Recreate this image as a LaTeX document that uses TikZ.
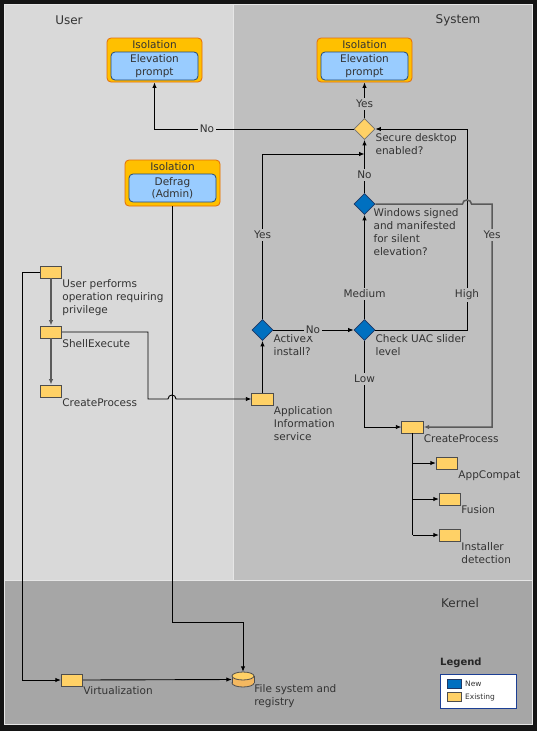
\documentclass[tikz,border=0pt]{standalone}
\usepackage{fontspec}
\setmainfont{DejaVu Sans}
\usetikzlibrary{shapes.geometric,arrows.meta,calc}
\definecolor{bg}{HTML}{141414}
\definecolor{userp}{HTML}{D9D9D9}
\definecolor{sysp}{HTML}{BFBFBF}
\definecolor{kerp}{HTML}{A6A6A6}
\definecolor{panelline}{HTML}{E6E6E6}
\definecolor{txt}{HTML}{333333}
\definecolor{exfill}{HTML}{FFD166}
\definecolor{exline}{HTML}{4D4D4D}
\definecolor{newfill}{HTML}{0070C0}
\definecolor{newline}{HTML}{1F3864}
\definecolor{isofill}{HTML}{FFC000}
\definecolor{isoline}{HTML}{E36C0A}
\definecolor{innfill}{HTML}{99CCFF}
\definecolor{innline}{HTML}{1F497D}
\definecolor{cylbody}{HTML}{F4B860}
\definecolor{legline}{HTML}{1C3F94}
\definecolor{grayarrow}{HTML}{5A5A5A}
\tikzset{
  exbox/.style={draw=exline, fill=exfill, line width=0.9pt, minimum width=21.5pt, minimum height=12pt, inner sep=0pt},
  newdia/.style={diamond, aspect=1, draw=newline, fill=newfill, line width=0.8pt, minimum width=21pt, minimum height=21pt, inner sep=0pt},
  exdia/.style={diamond, aspect=1, draw=exline!80, fill=exfill, line width=0.8pt, minimum width=21pt, minimum height=21pt, inner sep=0pt},
  isoouter/.style={draw=isoline, fill=isofill, rounded corners=4pt, line width=0.8pt, minimum width=95pt, minimum height=44pt, inner sep=0pt},
  isoinner/.style={draw=innline, fill=innfill, rounded corners=4pt, line width=0.8pt, minimum width=87pt, minimum height=28pt, inner sep=0pt, align=center, font=\fontsize{10.5}{12.5}\selectfont, text=txt},
  lbl/.style={font=\fontsize{10.5}{13}\selectfont, text=txt, align=left, inner sep=0pt},
  ttl/.style={font=\fontsize{12}{14}\selectfont, text=txt, inner sep=0pt},
  elbl/.style={font=\fontsize{10.5}{13}\selectfont, text=txt, inner sep=1.8pt, fill=sysp},
  conn/.style={draw=black, line width=0.9pt},
  arr/.style={conn, -{Latex[length=5.5pt,width=4.5pt]}},
  garr/.style={draw=grayarrow, line width=1.5pt, -{Latex[length=5.5pt,width=4.5pt]}},
  legtxt/.style={font=\fontsize{7.5}{9}\selectfont, text=txt, anchor=west, inner sep=0pt},
}
\begin{document}
\begin{tikzpicture}[x=1pt,y=-1pt]
\useasboundingbox (0,0) rectangle (537,731);
\fill[bg] (0,0) rectangle (537,731);
% panels
\filldraw[fill=userp, draw=panelline, line width=0.8pt] (4,4) rectangle (233,580);
\filldraw[fill=sysp, draw=panelline, line width=0.8pt] (233,4) rectangle (532,580);
\filldraw[fill=kerp, draw=panelline, line width=0.8pt] (4,580) rectangle (532,724);
% titles
\node[ttl] (tuser) at (69,20) {User};
\node[ttl] (tsys) at (458,20) {System};
\node[ttl] (tker) at (460,603) {Kernel};
% isolation boxes
\node[isoouter] (iso1) at (154.5,60) {};
\node[lbl] (iso1t) at (154.5,44.5) {Isolation};
\node[isoinner] (ep1) at (154.5,66) {Elevation\\prompt};
\node[isoouter] (iso2) at (364.5,60) {};
\node[lbl] (iso2t) at (364.5,44.5) {Isolation};
\node[isoinner] (ep2) at (364.5,66) {Elevation\\prompt};
\node[isoouter, minimum height=46pt] (iso3) at (172.5,183) {};
\node[lbl] (iso3t) at (172.5,167) {Isolation};
\node[isoinner] (df) at (172.5,188) {Defrag\\(Admin)};
% diamonds
\node[exdia] (sec) at (364.5,129) {};
\node[newdia] (win) at (364.5,204) {};
\node[newdia] (uac) at (364.5,330) {};
\node[newdia] (ax) at (262.5,330) {};
% boxes
\node[exbox] (up) at (51,272) {};
\node[exbox] (se) at (51,332) {};
\node[exbox] (cp1) at (51,391) {};
\node[exbox] (ai) at (262.5,399) {};
\node[exbox] (cp2) at (412.5,427) {};
\node[exbox] (ac) at (447,463) {};
\node[exbox] (fu) at (450,499) {};
\node[exbox] (ins) at (450,535) {};
\node[exbox] (vi) at (72,680) {};
\node[minimum width=22pt, minimum height=15pt, inner sep=0pt] (fs) at (243,679.5) {};
% cylinder drawing
\filldraw[fill=cylbody, draw=exline, line width=0.8pt] (243,683) ellipse [x radius=11, y radius=4];
\fill[cylbody] (232,676) rectangle (254,683);
\draw[exline, line width=0.8pt] (232,676) -- (232,683) (254,676) -- (254,683);
\filldraw[fill=exfill, draw=exline, line width=0.8pt] (243,676) ellipse [x radius=11, y radius=4];
% box labels
\node[lbl, anchor=north west] (upt) at ($(up.south east)+(0,0.5)$) {User performs\\operation requiring\\privilege};
\node[lbl, anchor=north west] (set) at ($(se.south east)+(0,0.5)$) {ShellExecute};
\node[lbl, anchor=north west] (cp1t) at ($(cp1.south east)+(0,0.8)$) {CreateProcess};
\node[lbl, anchor=north west] (ait) at ($(ai.south east)+(0,0.5)$) {Application\\Information\\service};
\node[lbl, anchor=north west] (cp2t) at ($(cp2.south east)+(0,0.8)$) {CreateProcess};
\node[lbl, anchor=north west] (act) at ($(ac.south east)+(0,0.8)$) {AppCompat};
\node[lbl, anchor=north west] (fut) at ($(fu.south east)+(0,0)$) {Fusion};
\node[lbl, anchor=north west] (inst) at ($(ins.south east)+(0,0.5)$) {Installer\\detection};
\node[lbl, anchor=north west] (vit) at ($(vi.south east)+(0,0)$) {Virtualization};
\node[lbl, anchor=north west] (fst) at ($(fs.south east)+(0,-2.5)$) {File system and\\registry};
% diamond labels
\node[lbl, anchor=north west] (sect) at ($(sec.east)+(0,4.8)$) {Secure desktop\\enabled?};
\node[lbl, anchor=north west] (wint) at ($(win.east)+(-2,4.8)$) {Windows signed\\and manifested\\for silent\\elevation?};
\node[lbl, anchor=north west] (uact) at ($(uac.east)+(0,4.8)$) {Check UAC slider\\level};
\node[lbl, anchor=north west] (axt) at ($(ax.east)+(0,4.8)$) {ActiveX\\install?};
% coordinates
\coordinate (jn) at (364.5,154);
\coordinate (hi) at (467,129);
\coordinate (yr) at (492,204);
\coordinate (b1a) at (462.5,204);
\coordinate (b1b) at (471.5,204);
\coordinate (sr) at (148,332);
\coordinate (b2a) at (168,399);
\coordinate (b2b) at (176,399);
\coordinate (lc) at (22,272);
\coordinate (dk) at (172.5,622);
\coordinate (br0) at (412.5,463);
\coordinate (br1) at (412.5,499);
\coordinate (br2) at (412.5,535);
% connectors
\draw[arr] (sec.west) -| (iso1.south);
\draw[arr] (sec.north) -- (iso2.south);
\draw[arr] (win.north) -- (sec.south);
\draw[arr] (ax.north) |- (jn);
\draw[arr] (ai.north) -- (ax.south);
\draw[arr] (ax.east) -- (uac.west);
\draw[arr] (uac.north) -- (win.south);
\draw[arr] (uac.east) -| (hi) -- (sec.east);
\draw[arr] (uac.south) |- (cp2.west);
\draw[garr] (win.east) -- (b1a) .. controls ($(b1a)+(0,-5.3)$) and ($(b1b)+(0,-5.3)$) .. (b1b) -- (yr) |- (cp2.east);
\draw[garr] (up.south) -- (se.north);
\draw[garr] (se.south) -- (cp1.north);
\draw[arr] (se.east) -- (sr) |- (b2a) .. controls ($(b2a)+(0,-5.3)$) and ($(b2b)+(0,-5.3)$) .. (b2b) -- (ai.west);
\draw[arr] (up.west) -- (lc) |- (vi.west);
\draw[arr] (vi.east) -- (fs.west);
\draw[arr] (iso3.south) -- (dk) -| (fs.north);
\draw[conn] (cp2.south) -- (br2);
\draw[arr] (br0) -- (ac.west);
\draw[arr] (br1) -- (fu.west);
\draw[arr] (br2) -- (ins.west);
% edge labels
\node[elbl, fill=userp] (lno1) at (207,128.5) {No};
\node[elbl] (lyes1) at (364.5,104) {Yes};
\node[elbl] (lno2) at (364.5,175) {No};
\node[elbl] (lyes2) at (262.5,235) {Yes};
\node[elbl] (lyes3) at (492,235) {Yes};
\node[elbl] (lmed) at (364.5,294) {Medium};
\node[elbl] (lhigh) at (467,295) {High};
\node[elbl] (lno3) at (313,330) {No};
\node[elbl] (llow) at (364.5,379) {Low};
% legend
\node[font=\bfseries\fontsize{10}{12}\selectfont, text=black!85, anchor=west, inner sep=0pt] (legt) at (440,663) {Legend};
\node[draw=legline, fill=white, line width=0.9pt, minimum width=76pt, minimum height=34pt, inner sep=0pt, anchor=north west] (leg) at (440,674) {};
\node[draw=newline, fill=newfill, line width=0.8pt, minimum width=14pt, minimum height=9pt, inner sep=0pt] (swn) at (454,684) {};
\node[exbox, minimum width=14pt, minimum height=9pt] (swe) at (454,697) {};
\node[legtxt] (lnew) at (465,684) {New};
\node[legtxt] (lex) at (465,697) {Existing};
\end{tikzpicture}
\end{document}
